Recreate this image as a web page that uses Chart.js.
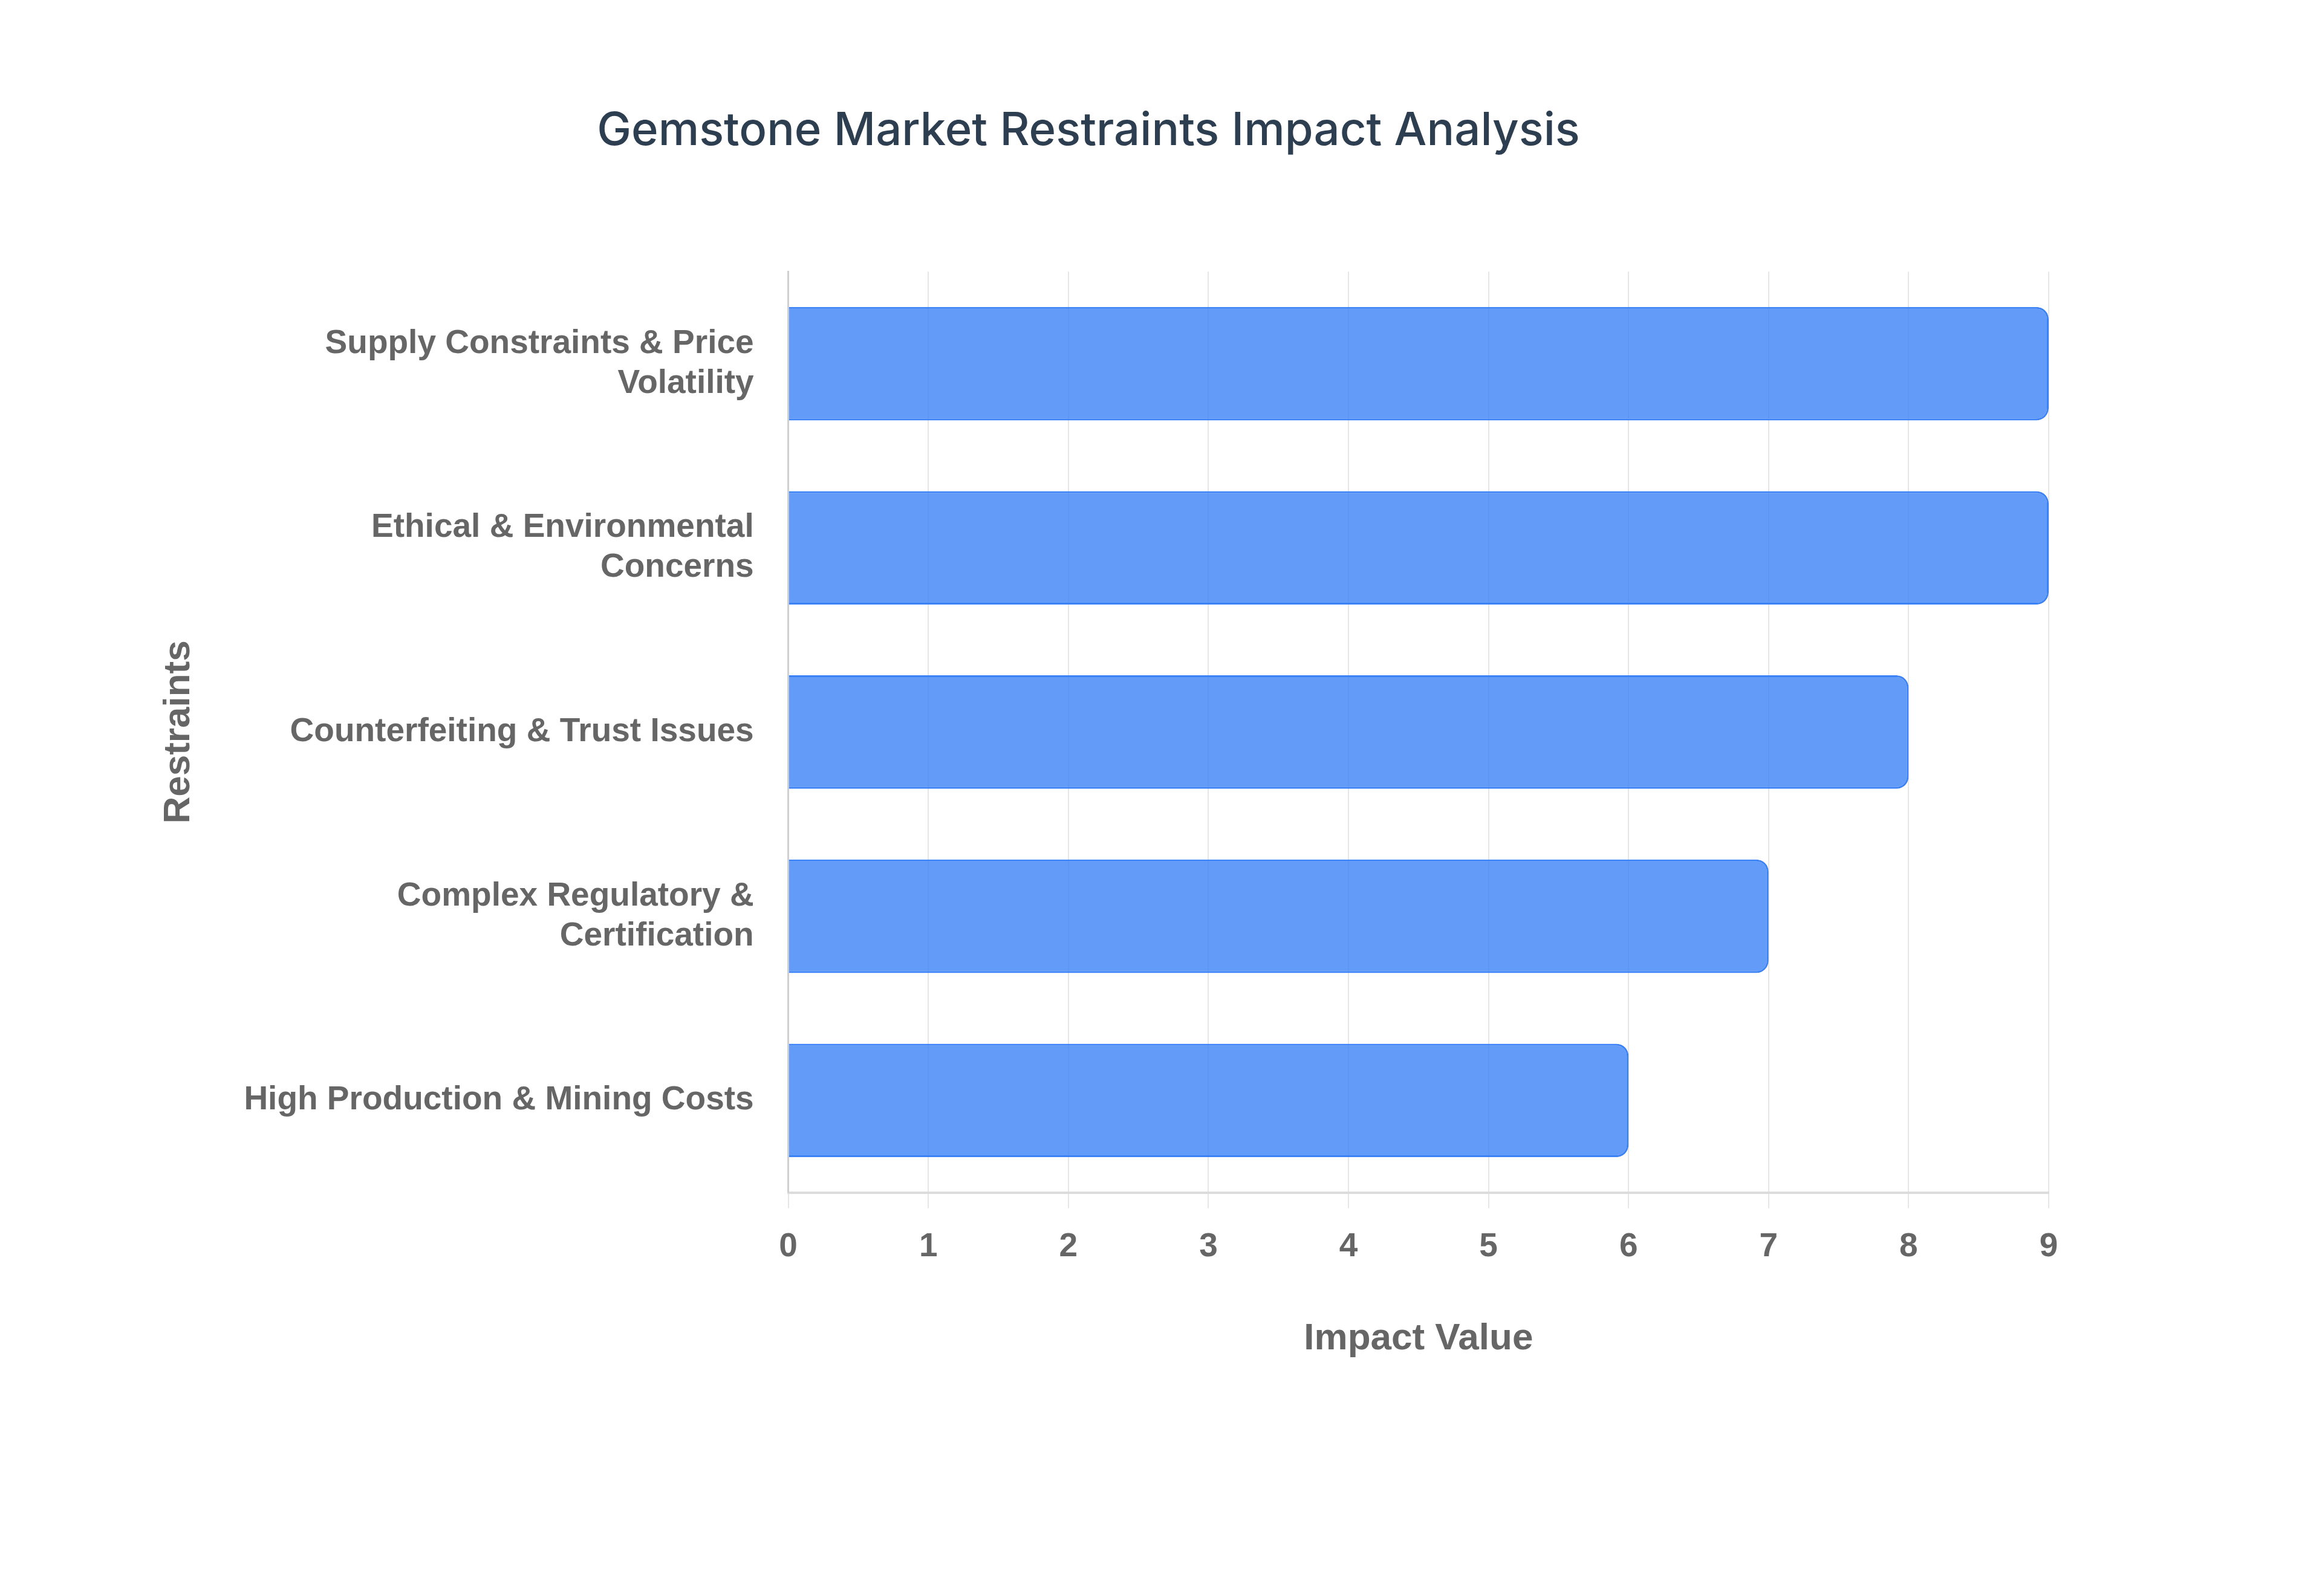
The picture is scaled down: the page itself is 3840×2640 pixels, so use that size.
<!DOCTYPE html>
<html>
<head>
<meta charset="utf-8">
<title>Gemstone Market Restraints Impact Analysis</title>
<script src="https://cdn.jsdelivr.net/npm/chart.js@4.4.0/dist/chart.umd.min.js"></script>
<style>
  html, body { margin: 0; padding: 0; background: #ffffff; }
  #wrap { width: 3840px; height: 2640px; position: relative; }
</style>
</head>
<body>
<div id="wrap"><canvas id="chartRestraints"></canvas></div>
<script>
// datos
const restraints = [
  ["Supply Constraints & Price", "Volatility"],
  ["Ethical & Environmental", "Concerns"],
  "Counterfeiting & Trust Issues",
  ["Complex Regulatory &", "Certification"],
  "High Production & Mining Costs",
]
const impactValues = [9, 9, 8, 7, 6]
const impactTicks = [0, 1, 2, 3, 4, 5, 6, 7, 8, 9]

const labelFont = "'Liberation Sans', Arial, Helvetica, sans-serif"

document.addEventListener("DOMContentLoaded", () => {
  const ctx = document.getElementById("chartRestraints")

  new Chart(ctx, {
    type: "bar",
    data: {
      labels: restraints,
      datasets: [
        {
          label: "Impact Value",
          data: impactValues,
          backgroundColor: "rgba(59, 130, 246, 0.8)",
          borderColor: "#3b82f6",
          borderWidth: 3,
          borderRadius: 20,
          barPercentage: 0.77,
          categoryPercentage: 0.8,
        },
      ],
    },
    options: {
      indexAxis: "y",
      responsive: true,
      maintainAspectRatio: false,
      devicePixelRatio: 1,
      animation: false,
      layout: { padding: { left: 212, right: 452, top: 0, bottom: 379 } },
      plugins: {
        legend: { display: false },
        tooltip: { enabled: false },
        title: {
          display: true,
          text: "Gemstone Market Restraints Impact Analysis",
          color: "#2c3e50",
          font: { family: "Inter, 'Noto Sans', sans-serif", size: 76, weight: "500" },
          padding: { top: 172, bottom: 186 },
        },
      },
      scales: {
        x: {
          min: 0,
          max: 9,
          afterBuildTicks: (axis) => {
            axis.ticks = impactTicks.map((v) => ({ value: v }))
          },
          grid: { color: "#e6e6e6", lineWidth: 2, tickLength: 26 },
          border: { color: "#dcdcdc", width: 4 },
          ticks: {
            color: "#666666",
            padding: 31,
            font: { family: labelFont, size: 55, weight: "bold" },
          },
          title: {
            display: true,
            text: "Impact Value",
            color: "#666666",
            font: { family: labelFont, size: 62, weight: "bold" },
            padding: { top: 51, bottom: 9 },
          },
        },
        y: {
          grid: { display: false, drawTicks: false },
          border: { display: true, color: "#d0d0d0", width: 3 },
          ticks: {
            color: "#666666",
            padding: 57,
            font: { family: labelFont, size: 55, weight: "bold" },
          },
          title: {
            display: true,
            text: "Restraints",
            color: "#666666",
            font: { family: labelFont, size: 62, weight: "bold" },
            padding: { top: 47, bottom: 13 },
          },
        },
      },
    },
  })
})
</script>
</body>
</html>
